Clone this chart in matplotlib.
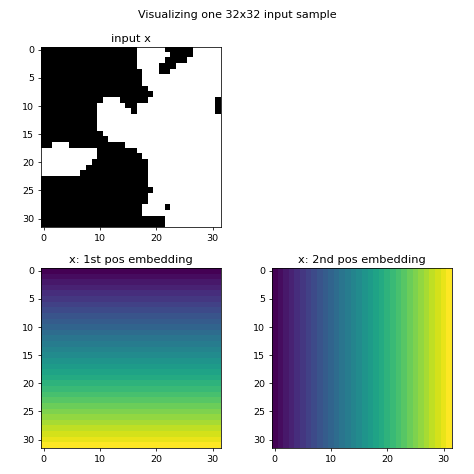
import numpy as np
import matplotlib
matplotlib.use("Agg")
import matplotlib.pyplot as plt

# black runs per row of the input sample, (first col, last col) inclusive
black_runs = [
    [(0, 16), (22, 26)],
    [(0, 16), (23, 26)],
    [(0, 16), (22, 25)],
    [(0, 16), (21, 23)],
    [(0, 17), (21, 22)],
    [(0, 17)],
    [(0, 17)],
    [(0, 18)],
    [(0, 19)],
    [(0, 10), (14, 17), (18, 18), (31, 31)],
    [(0, 9), (15, 16), (31, 31)],
    [(0, 9), (16, 16), (31, 31)],
    [(0, 9)],
    [(0, 9)],
    [(0, 9)],
    [(0, 10)],
    [(0, 11)],
    [(0, 1), (5, 14)],
    [(10, 16)],
    [(10, 17)],
    [(9, 18)],
    [(8, 18)],
    [(7, 18)],
    [(0, 18)],
    [(0, 18)],
    [(0, 19)],
    [(0, 18)],
    [(0, 18)],
    [(0, 17), (22, 22)],
    [(0, 17)],
    [(0, 21)],
    [(0, 21)],
]
positions = [0, 1, 2, 3, 4, 5, 6, 7, 8, 9, 10, 11, 12, 13, 14, 15,
             16, 17, 18, 19, 20, 21, 22, 23, 24, 25, 26, 27, 28, 29, 30, 31]
ticks = [0, 5, 10, 15, 20, 25, 30]
xticks = [0, 10, 20, 30]

sample = np.ones((32, 32))
for row, runs in enumerate(black_runs):
    for start, end in runs:
        sample[row, start:end + 1] = 0

pos_1st = np.tile(np.array(positions)[:, None], (1, 32))
pos_2nd = np.tile(np.array(positions)[None, :], (32, 1))

W = 474
fig = plt.figure(figsize=(4.74, 4.74), dpi=100)
fig.suptitle("Visualizing one 32x32 input sample", fontsize=8, x=0.5, y=0.978)


def add_panel(left, top, title, data, cmap):
    ax = fig.add_axes([left / W, 1 - (top + 180) / W, 180 / W, 180 / W])
    ax.imshow(data, cmap=cmap)
    ax.set_title(title, fontsize=8.2, pad=3.5)
    ax.set_xticks(xticks)
    ax.set_yticks(ticks)
    ax.tick_params(labelsize=6.8, length=2.4, width=0.55, pad=2.4)
    for spine in ax.spines.values():
        spine.set_linewidth(0.55)
    return ax


add_panel(41, 47, "input x", sample, "gray")
add_panel(41, 268, "x: 1st pos embedding", pos_1st, "viridis")
add_panel(272, 268, "x: 2nd pos embedding", pos_2nd, "viridis")

fig.savefig("out.png", dpi=100)
